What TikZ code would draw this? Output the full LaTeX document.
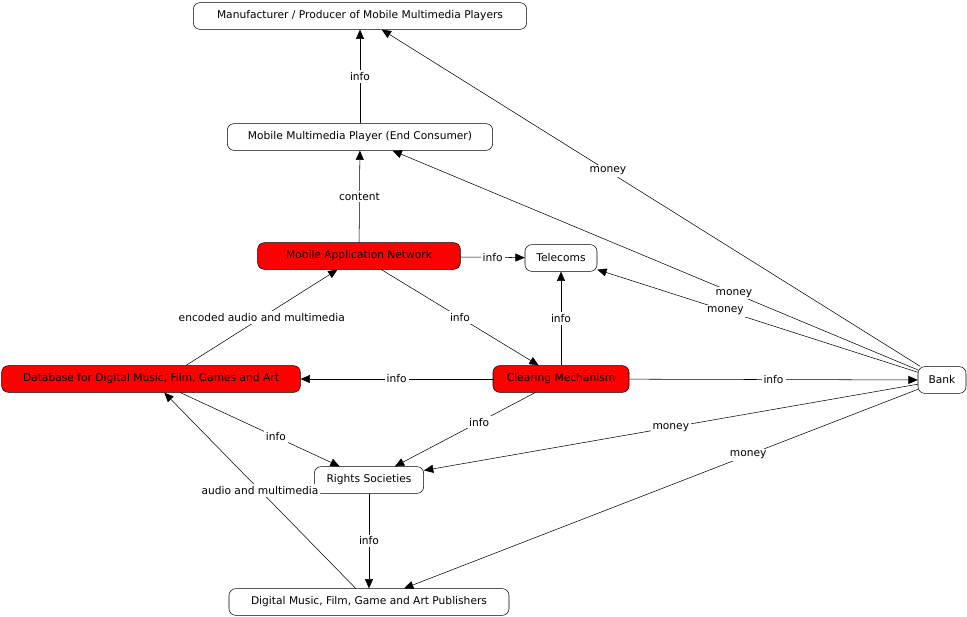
\documentclass[tikz,border=0pt]{standalone}
\usepackage{fontspec}
\setmainfont{DejaVu Sans}
\usetikzlibrary{arrows.meta}
\begin{document}
\begin{tikzpicture}[x=0.75pt,y=-0.75pt,
  concept/.style={draw=black,rounded corners=5pt,minimum height=20pt,inner xsep=4pt,font=\fontsize{8}{9}\selectfont},
  hot/.style={concept,fill=red},
  link/.style={-{Triangle[length=7pt,width=6pt]}},
  lbl/.style={fill=white,inner sep=1.5pt,font=\fontsize{8}{9}\selectfont}]
\useasboundingbox (0,0) rectangle (967,617);
% concepts
\node[concept,minimum width=250pt] (manu) at (360,16) {Manufacturer / Producer of Mobile Multimedia Players};
\node[concept,minimum width=199pt] (player) at (360,137) {Mobile Multimedia Player (End Consumer)};
\node[hot,minimum width=152pt] (man) at (359,256) {Mobile Application Network};
\node[concept,minimum width=54pt] (tele) at (561,258) {Telecoms};
\node[hot,minimum width=224pt] (db) at (151,379) {Database for Digital Music, Film, Games and Art};
\node[hot,minimum width=102pt] (clear) at (561,379) {Clearing Mechanism};
\node[concept,minimum width=36pt] (bank) at (942,380) {Bank};
\node[concept,minimum width=82pt] (rights) at (369,480) {Rights Societies};
\node[concept,minimum width=210pt] (pub) at (369,602) {Digital Music, Film, Game and Art Publishers};
% links
\draw[link] (player) -- node[lbl] {info} (manu);
\draw[link] (man) -- node[lbl] {content} (player);
\draw[link] (man) -- node[lbl] {info} (tele);
\draw[link] (man) -- node[lbl] {info} (clear);
\draw[link] (db.north) ++(35,0) -- node[lbl] {encoded audio and multimedia} (man);
\draw[link] (clear) -- node[lbl] {info} (tele);
\draw[link] (clear) -- node[lbl] {info} (db);
\draw[link] (clear) -- node[lbl] {info} (bank);
\draw[link] (clear) -- node[lbl,pos=0.4] {info} (rights);
\draw[link] (db) -- node[lbl,pos=0.6] {info} (rights);
\draw[link] (rights) -- node[lbl] {info} (pub);
\draw[link] (pub) -- node[lbl] {audio and multimedia} (db);
% money
\draw[link] (bank) -- node[lbl,pos=0.58] {money} (manu);
\draw[link] (bank) -- node[lbl,pos=0.35] {money} (player);
\draw[link] (bank) -- node[lbl,pos=0.6] {money} (tele);
\draw[link] (bank) -- node[lbl,pos=0.5] {money} (rights);
\draw[link] (bank) -- node[lbl,pos=0.33] {money} (pub);
\end{tikzpicture}
\end{document}
